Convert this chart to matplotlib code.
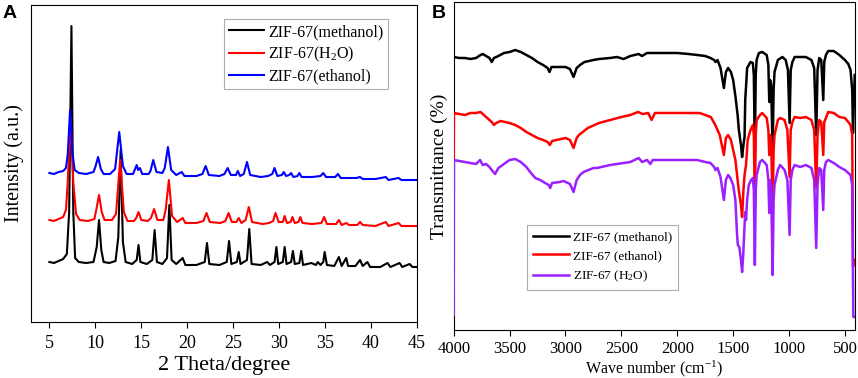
import matplotlib
matplotlib.use("Agg")
import matplotlib.pyplot as plt

plt.rcParams['font.family'] = ['Liberation Serif', 'DejaVu Serif']
plt.rcParams['mathtext.fontset'] = 'custom'
plt.rcParams['mathtext.rm'] = 'Liberation Serif'
plt.rcParams['mathtext.it'] = 'Liberation Serif:italic'

# ---------------- Panel A: XRD (2theta, intensity a.u.) ----------------
xrd_methanol = [(5.0,60),(5.5,59),(6.0,61),(6.5,63),(6.9,68),(7.15,110),(7.4,296),(7.6,110),(7.8,64),(8.2,60),
    (9.0,59),(9.8,60),(10.15,75),(10.4,102),(10.65,72),(10.9,60),(11.5,59),(12.2,61),(12.5,85),(12.75,172),
    (13.0,80),(13.3,60),(14.0,58),(14.5,62),(14.7,77),(14.9,60),(15.6,58),(16.2,62),(16.45,92),(16.7,60),
    (17.3,58),(17.8,64),(18.05,117),(18.3,62),(18.8,58),(19.5,64),(19.8,57),(21.0,57),(21.9,60),(22.15,79),
    (22.4,58),(23.5,57),(24.3,60),(24.55,81),(24.8,58),(25.4,60),(25.6,70),(25.8,58),(26.5,62),(26.75,93),
    (27.0,58),(28.0,57),(28.7,60),(29.0,57),(29.5,60),(29.7,75),(29.9,58),(30.4,60),(30.6,75),(30.8,58),
    (31.3,60),(31.5,71),(31.7,58),(32.2,59),(32.4,71),(32.6,57),(33.5,59),(34.0,57),(34.2,60),(34.5,57),
    (34.8,60),(34.95,70),(35.2,57),(36.0,56),(36.5,65),(36.8,56),(37.3,64),(37.5,56),(38.3,56),(38.8,62),
    (39.1,56),(39.6,60),(39.9,55),(41.0,55),(41.8,59),(42.1,55),(43.1,59),(43.4,55),(44.2,58),(44.5,55),(45.0,55)]

xrd_h2o = [(5.0,102),(5.5,101),(6.0,103),(6.5,105),(6.8,112),(7.0,140),(7.3,204),(7.6,140),(7.9,108),(8.3,102),
    (9.2,101),(9.9,103),(10.1,112),(10.4,127),(10.7,110),(11.0,102),(11.8,102),(12.25,108),(12.7,162),(13.1,110),
    (13.5,101),(14.2,101),(14.45,104),(14.7,110),(15.0,102),(15.7,101),(16.05,104),(16.4,113),(16.75,102),(17.4,102),
    (17.65,112),(18.0,142),(18.35,106),(18.9,100),(19.5,104),(19.8,99),(21.0,99),(21.75,101),(22.1,109),(22.45,100),
    (23.6,99),(24.15,101),(24.5,109),(24.85,100),(25.35,100),(25.6,104),(25.9,99),(26.35,102),(26.7,115),(27.05,100),
    (28.2,98),(28.9,99),(29.35,101),(29.6,109),(29.95,100),(30.4,100),(30.6,106),(30.85,99),(31.25,100),(31.45,105),
    (31.7,99),(32.1,100),(32.3,105),(32.55,99),(33.6,98),(34.6,99),(34.9,105),(35.2,98),(36.2,98),(36.5,102),
    (36.8,97),(37.3,99),(37.6,97),(38.5,97),(38.8,100),(39.1,97),(40.5,96),(41.6,100),(41.9,96),(43.0,99),
    (43.3,96),(44.3,96),(45.0,96)]

xrd_ethanol = [(5.0,149),(5.5,148),(6.0,150),(6.5,151),(6.8,154),(7.0,168),(7.25,212),(7.5,170),(7.75,152),(8.2,149),
    (9.0,148),(9.8,150),(10.0,155),(10.3,165),(10.6,153),(10.9,148),(11.6,148),(12.15,153),(12.6,190),(13.0,156),
    (13.4,148),(14.1,148),(14.5,157),(14.65,152),(14.85,154),(15.1,148),(15.8,148),(16.0,151),(16.3,162),(16.65,150),
    (17.3,149),(17.55,154),(17.9,175),(18.25,152),(18.8,147),(19.4,150),(19.7,146),(21.0,146),(21.65,148),(22.0,156),
    (22.35,147),(23.5,146),(24.05,148),(24.4,154),(24.75,147),(25.3,147),(25.5,151),(25.75,146),(26.15,148),(26.5,160),
    (26.85,147),(28.0,145),(28.8,146),(29.25,148),(29.5,154),(29.8,146),(30.3,147),(30.5,150),(30.75,146),(31.1,147),
    (31.3,149),(31.55,145),(32.0,146),(32.2,149),(32.45,145),(33.6,145),(34.5,146),(34.8,149),(35.1,145),(36.1,145),
    (36.4,148),(36.7,144),(38.4,144),(38.8,145),(39.1,143),(40.5,143),(41.6,145),(41.9,142),(43.0,144),(43.3,142),
    (44.3,142),(45.0,142)]

xrd_labels = ['ZIF-67(methanol)', 'ZIF-67(H$_2$O)', 'ZIF-67(ethanol)']
xrd_colors = ['#000000', '#ff0000', '#0000ff']
xrd_xticks = [5, 10, 15, 20, 25, 30, 35, 40, 45]

# ---------------- Panel B: FTIR (wavenumber, transmittance a.u.) ----------------
ir_methanol = [(4000,273),(3950,272),(3900,272),(3850,271),(3800,272),(3760,275),(3740,276),(3710,274),(3680,272),
    (3660,268),(3640,272),(3600,274),(3550,277),(3500,278),(3450,280),(3400,278),(3350,275),(3300,272),(3250,268),
    (3200,265),(3160,262),(3143,258),(3125,263),(3080,263),(3000,263),(2960,261),(2928,253),(2900,262),(2870,265),
    (2830,268),(2750,270),(2700,271),(2600,272),(2540,273),(2480,271),(2420,274),(2345,276),(2315,274),(2270,277),
    (2200,277),(2121,277),(2000,277),(1900,276),(1822,275),(1750,274),(1703,272),(1670,270),(1658,268),(1640,270),
    (1613,262),(1583,242),(1565,258),(1545,262),(1520,258),(1500,250),(1479,233),(1460,215),(1449,200),(1430,185),
    (1420,173),(1408,185),(1398,193),(1392,230),(1385,243),(1375,262),(1345,268),(1324,267),(1315,255),(1306,180),
    (1298,255),(1290,270),(1270,277),(1240,278),(1200,275),(1185,265),(1177,228),(1170,250),(1160,245),(1147,180),
    (1138,240),(1130,258),(1100,270),(1060,273),(1030,270),(1010,260),(995,207),(985,260),(970,268),(950,273),
    (900,273),(850,273),(800,270),(775,262),(757,195),(745,260),(730,272),(712,270),(694,230),(685,268),(670,275),
    (650,279),(600,279),(550,275),(500,270),(470,266),(450,260),(435,240),(428,197),(420,230),(412,255)]

ir_ethanol = [(4000,170),(3998,217),(3950,216),(3900,215),(3850,217),(3800,217),(3760,218),(3720,214),(3700,212),
    (3660,208),(3640,205),(3620,207),(3580,209),(3500,207),(3450,205),(3400,202),(3350,198),(3300,195),(3250,192),
    (3200,190),(3160,188),(3140,185),(3120,189),(3080,190),(3000,192),(2960,190),(2928,182),(2900,192),(2880,195),
    (2800,202),(2700,207),(2600,210),(2500,213),(2420,215),(2350,218),(2310,216),(2260,217),(2230,210),(2200,217),
    (2100,217),(2000,217),(1900,217),(1800,217),(1750,215),(1700,213),(1660,205),(1620,195),(1583,175),(1565,192),
    (1545,195),(1520,190),(1500,180),(1480,170),(1460,150),(1450,140),(1430,125),(1420,113),(1408,140),(1398,155),
    (1385,165),(1370,190),(1345,200),(1324,205),(1315,195),(1306,125),(1298,195),(1290,210),(1260,215),(1240,217),
    (1200,212),(1185,200),(1177,175),(1170,195),(1160,190),(1147,120),(1138,180),(1130,195),(1100,210),(1080,212),
    (1040,210),(1015,200),(995,153),(985,200),(970,208),(950,213),(900,212),(850,213),(800,210),(775,200),(757,142),
    (745,195),(730,210),(712,208),(694,175),(685,208),(670,212),(650,218),(600,217),(550,213),(500,212),(470,208),
    (450,205),(435,195),(428,63),(415,70)]

ir_h2o = [(4000,15),(3998,170),(3950,169),(3900,168),(3850,167),(3800,166),(3764,170),(3740,165),(3710,166),(3680,163),
    (3660,160),(3630,156),(3600,162),(3550,166),(3500,170),(3450,171),(3400,168),(3350,163),(3316,158),(3270,152),
    (3226,150),(3182,147),(3150,145),(3137,142),(3120,147),(3050,148),(3017,149),(2960,146),(2928,138),(2900,150),
    (2870,155),(2838,158),(2750,162),(2719,162),(2600,165),(2539,166),(2480,167),(2420,168),(2345,172),(2315,168),
    (2270,170),(2241,166),(2220,170),(2121,170),(2000,170),(1900,170),(1822,170),(1750,168),(1703,167),(1670,163),
    (1658,160),(1640,162),(1613,153),(1583,130),(1565,150),(1545,155),(1525,152),(1500,145),(1480,130),(1465,95),
    (1458,85),(1445,83),(1430,70),(1420,58),(1410,75),(1400,100),(1392,118),(1385,110),(1375,130),(1360,145),
    (1340,150),(1324,152),(1315,140),(1306,65),(1298,140),(1290,155),(1260,168),(1240,170),(1200,165),(1185,150),
    (1177,117),(1170,150),(1160,140),(1147,55),(1138,130),(1130,145),(1100,160),(1080,165),(1040,160),(1015,150),
    (995,95),(985,150),(970,160),(950,165),(900,163),(850,165),(800,162),(775,150),(757,82),(745,145),(730,162),
    (712,160),(694,120),(685,160),(670,168),(650,170),(600,167),(550,163),(500,160),(470,157),(450,155),(435,145),
    (425,13),(412,13)]

ir_labels = ['ZIF-67 (methanol)', 'ZIF-67 (ethanol)', 'ZIF-67 (H$_2$O)']
ir_colors = ['#000000', '#ff0000', '#9b1fff']
ir_xticks = [4000, 3500, 3000, 2500, 2000, 1500, 1000, 500]

# ---------------- Figure ----------------
fig = plt.figure(figsize=(8.58, 3.78), dpi=100)
axA = fig.add_axes([31/858, 1-322/378, (417-31)/858, (322-5)/378])
axB = fig.add_axes([453.7/858, 1-330/378, (855-453.7)/858, (330-2)/378])

for data, lab, col in zip([xrd_methanol, xrd_h2o, xrd_ethanol], xrd_labels, xrd_colors):
    xs, ys = zip(*data)
    axA.plot(xs, ys, color=col, lw=1.5, label=lab)
axA.set_xlim(3, 45)
axA.set_ylim(0, 317)
axA.set_yticks([])
axA.set_xticks(xrd_xticks)
axA.tick_params(axis='x', direction='out', length=4, width=0.8, labelsize=13, pad=5)
axA.set_xlabel('2 Theta/degree', fontsize=16, labelpad=3)
axA.set_ylabel('Intensity (a.u.)', fontsize=14.5, labelpad=5)
legA = axA.legend(loc='upper right', bbox_to_anchor=(0.925, 0.955), fontsize=11.5, frameon=True,
                  fancybox=False, edgecolor='#999999', handlelength=2.2, handletextpad=0.25,
                  labelspacing=0.28, borderpad=0.3, borderaxespad=0)
legA.get_frame().set_linewidth(0.8)

for data, lab, col in zip([ir_methanol, ir_ethanol, ir_h2o], ir_labels, ir_colors):
    xs, ys = zip(*data)
    axB.plot(xs, ys, color=col, lw=1.8, label=lab, zorder=3)
axB.set_xlim(4000, 410)
axB.set_ylim(0, 328)
axB.set_yticks([])
axB.set_xticks(ir_xticks)
axB.tick_params(axis='x', direction='out', length=4, width=0.8, labelsize=12, pad=4)
axB.set_xlabel('Wave number (cm$^{-1}$)', fontsize=11.5, labelpad=1)
axB.set_ylabel('Transmittance (%)', fontsize=14, labelpad=4)
legB = axB.legend(loc='upper left', bbox_to_anchor=(0.183, 0.32), fontsize=9.5, frameon=True,
                  fancybox=False, edgecolor='#999999', handlelength=2.7, handletextpad=0.3,
                  labelspacing=0.5, borderpad=0.45, borderaxespad=0)
legB.get_frame().set_linewidth(0.8)

fig.text(3/858, 1-14/378, 'A', fontsize=14, fontweight='bold', family='Liberation Sans', va='center', ha='left')
fig.text(432/858, 1-14/378, 'B', fontsize=14, fontweight='bold', family='Liberation Sans', va='center', ha='left')

fig.savefig('out.png', dpi=100)
